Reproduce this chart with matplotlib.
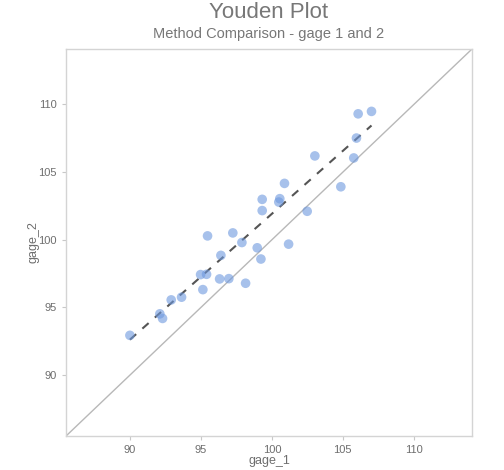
import matplotlib
matplotlib.use('Agg')
import matplotlib.pyplot as plt
import numpy as np

plt.rcParams['font.family'] = ['Liberation Sans', 'DejaVu Sans']

# gage readings
gage_1 = [107.02, 106.08, 105.96, 105.77, 103.03, 104.86, 100.89, 99.32, 100.56, 100.49,
          99.32, 102.49, 95.47, 97.25, 97.89, 98.97, 101.18, 99.23, 96.41, 94.98,
          95.40, 96.32, 96.97, 98.15, 95.14, 92.91, 93.64, 92.11, 92.30, 90.00]
gage_2 = [109.49, 109.31, 107.52, 106.05, 106.20, 103.92, 104.17, 102.99, 103.04, 102.79,
          102.16, 102.11, 100.29, 100.51, 99.80, 99.41, 99.68, 98.58, 98.85, 97.43,
          97.45, 97.11, 97.13, 96.79, 96.32, 95.56, 95.76, 94.53, 94.19, 92.94]
# fitted line
fit_slope = 0.930
fit_intercept = 8.92
ticks = [90, 95, 100, 105, 110]
lims = (85.5, 114.1)

x = np.array(gage_1)
y = np.array(gage_2)

fig = plt.figure(figsize=(5.04, 4.70), dpi=100)
ax = fig.add_axes([0.131, 0.0723, 0.8055, 0.8234])

# identity line
ax.plot(lims, lims, color='#b8b8b8', lw=1.0, zorder=1)

# fit line over the range of gage_1
xr = np.array([x.min(), x.max()])
ax.plot(xr, fit_intercept + fit_slope * xr, color='#555555', lw=1.5, ls=(0, (4, 4)), zorder=2)

ax.scatter(x, y, s=48, color='#6d98de', alpha=0.6, edgecolors='none', zorder=3)

ax.set_xlim(lims)
ax.set_ylim(lims)
ax.set_xticks(ticks)
ax.set_yticks(ticks)
ax.tick_params(colors='#c8c8c8', labelcolor='#6e6e6e', labelsize=8, length=3, width=0.8)
for s in ax.spines.values():
    s.set_color('#d4d4d4')
    s.set_linewidth(1.0)

ax.set_xlabel('gage_1', fontsize=9, color='#6e6e6e', labelpad=0)
ax.set_ylabel('gage_2', fontsize=9, color='#6e6e6e', labelpad=-1)

fig.text(0.533, 0.974, 'Youden Plot', ha='center', va='center', fontsize=16, color='#777777')
fig.text(0.533, 0.927, 'Method Comparison - gage 1 and 2', ha='center', va='center',
         fontsize=10.5, color='#777777')

fig.savefig('out.png', dpi=100)
